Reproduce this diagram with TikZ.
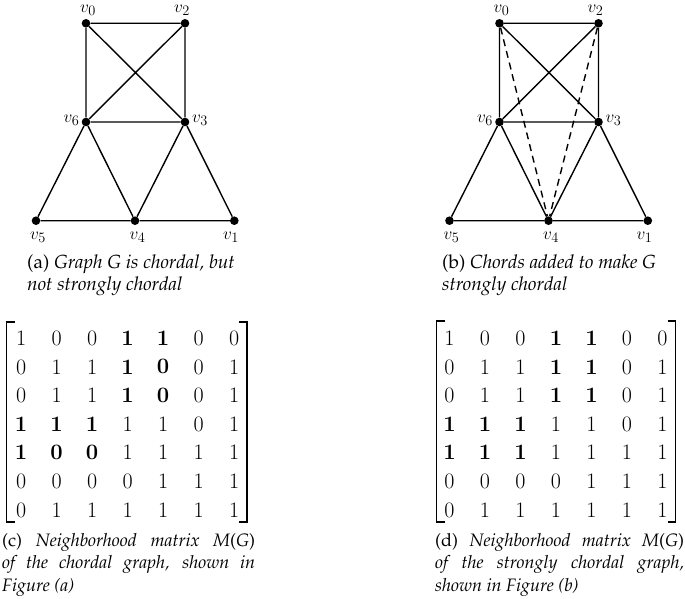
\documentclass[tikz,border=0pt]{standalone}
\usepackage[T1,TU]{fontenc}
\usetikzlibrary{matrix}
\newcommand\capfont{\fontencoding{T1}\fontfamily{ppl}\fontsize{18}{22}\selectfont}
\newcommand\capfontb{\fontencoding{T1}\fontfamily{ppl}\fontsize{19}{22}\selectfont}
\tikzset{
 vtx/.style={circle,fill=black,inner sep=0pt,minimum size=8.6pt},
 edge/.style={line width=1.4pt},
 chord/.style={line width=1.4pt,dash pattern=on 7pt off 5pt},
 vlab/.style={inner sep=0pt,font=\fontsize{19}{22}\selectfont},
 captext/.style={inner sep=0pt,anchor=base west,font=\capfont},
 captextb/.style={inner sep=0pt,anchor=base west,font=\capfontb},
 brk/.style={line width=1.8pt},
 nmat/.style={matrix of nodes,inner sep=0pt,column sep=0pt,row sep=0pt,
   nodes={inner sep=0pt,minimum width=35.5pt,minimum height=28.6pt,anchor=center,
   font=\fontsize{22}{26}\selectfont}},
}
\newcommand\mkgraph[1]{%
 \node[vtx] (#1v0) at (86,23.3) {};
 \node[vtx] (#1v2) at (185,23.3) {};
 \node[vtx] (#1v6) at (86,122) {};
 \node[vtx] (#1v3) at (185,122) {};
 \node[vtx] (#1v5) at (36,220.7) {};
 \node[vtx] (#1v4) at (135,220.7) {};
 \node[vtx] (#1v1) at (234.3,220.7) {};
 \node[vlab] (#1l0) at (88,10) {$v_0$};
 \node[vlab] (#1l2) at (182,10) {$v_2$};
 \node[vlab] (#1l6) at (71.5,120) {$v_6$};
 \node[vlab] (#1l3) at (200,120) {$v_3$};
 \node[vlab] (#1l5) at (38,237) {$v_5$};
 \node[vlab] (#1l4) at (137.5,237) {$v_4$};
 \node[vlab] (#1l1) at (231,237) {$v_1$};
 \draw[edge] (#1v0) -- (#1v2) (#1v0) -- (#1v6) (#1v2) -- (#1v3)
   (#1v0) -- (#1v3) (#1v2) -- (#1v6) (#1v6) -- (#1v3)
   (#1v6) -- (#1v5) (#1v6) -- (#1v4) (#1v3) -- (#1v4) (#1v3) -- (#1v1)
   (#1v5) -- (#1v4) (#1v4) -- (#1v1);
}
\begin{document}
\begin{tikzpicture}[x=1pt,y=-1pt]
\useasboundingbox (0,0) rectangle (685,599);
\begin{scope}
 \mkgraph{a}
\end{scope}
\begin{scope}[xshift=413.5pt]
 \mkgraph{b}
 \draw[chord] (bv0) -- (bv4) (bv2) -- (bv4);
\end{scope}
% captions (a), (b)
\node[captextb] (capa1) at (27,268) {(a) \textit{Graph G is chordal, but}};
\node[captextb] (capa2) at (27,290) {\textit{not strongly chordal}};
\node[captextb] (capb1) at (442,268) {(b) \textit{Chords added to make G}};
\node[captextb] (capb2) at (442,290) {\textit{strongly chordal}};
% matrix (c)
\matrix[nmat,column 1/.style={nodes={xshift=-5pt}}] (mc) at (127.6,424.1) {
1 & 0 & 0 & \textbf{1} & \textbf{1} & 0 & 0 \\
0 & 1 & 1 & \textbf{1} & \textbf{0} & 0 & 1 \\
0 & 1 & 1 & \textbf{1} & \textbf{0} & 0 & 1 \\
\textbf{1} & \textbf{1} & \textbf{1} & 1 & 1 & 0 & 1 \\
\textbf{1} & \textbf{0} & \textbf{0} & 1 & 1 & 1 & 1 \\
0 & 0 & 0 & 0 & 1 & 1 & 1 \\
0 & 1 & 1 & 1 & 1 & 1 & 1 \\
};
\draw[brk] (14.5,321.7) -- (6.5,321.7) -- (6.5,521.7) -- (14.5,521.7);
\draw[brk] (239,321.7) -- (247,321.7) -- (247,521.7) -- (239,521.7);
% matrix (d)
\matrix[nmat] (md) at (556,424.1) {
1 & 0 & 0 & \textbf{1} & \textbf{1} & 0 & 0 \\
0 & 1 & 1 & \textbf{1} & \textbf{1} & 0 & 1 \\
0 & 1 & 1 & \textbf{1} & \textbf{1} & 0 & 1 \\
\textbf{1} & \textbf{1} & \textbf{1} & 1 & 1 & 0 & 1 \\
\textbf{1} & \textbf{1} & \textbf{1} & 1 & 1 & 1 & 1 \\
0 & 0 & 0 & 0 & 1 & 1 & 1 \\
0 & 1 & 1 & 1 & 1 & 1 & 1 \\
};
\draw[brk] (444.5,321) -- (436.5,321) -- (436.5,521.7) -- (444.5,521.7);
\draw[brk] (667.5,321) -- (675.5,321) -- (675.5,521.7) -- (667.5,521.7);
% captions (c), (d)
\node[captext] (capc1) at (2,546.5) {\makebox[253pt][s]{(c) \textit{Neighborhood matrix M}(\textit{G})}};
\node[captext] (capc2) at (2,568.5) {\makebox[253pt][s]{\textit{of the chordal graph, shown in}}};
\node[captext] (capc3) at (2,591) {\textit{Figure (a)}};
\node[captext] (capd1) at (435,546.5) {\makebox[249pt][s]{(d) \textit{Neighborhood matrix M}(\textit{G})}};
\node[captext] (capd2) at (435,568.5) {\makebox[249pt][s]{\textit{of the strongly chordal graph,}}};
\node[captext] (capd3) at (435,591) {\textit{shown in Figure (b)}};
\end{tikzpicture}
\end{document}
